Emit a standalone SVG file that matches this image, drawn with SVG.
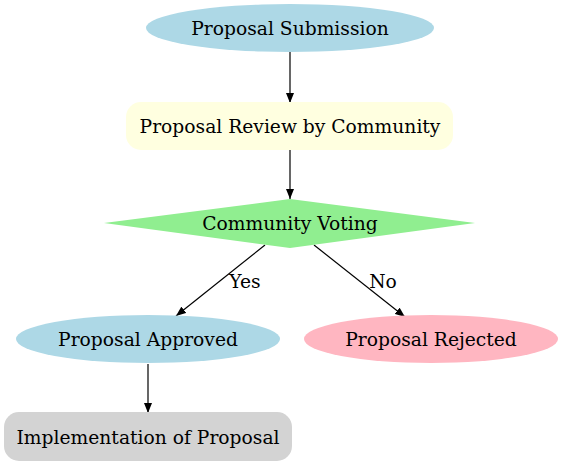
<svg xmlns="http://www.w3.org/2000/svg" width="563" height="467" viewBox="0 0 563 467">
<style>
text{font-family:"DejaVu Serif","Liberation Serif",serif;font-size:18.7px;fill:#000;text-anchor:middle;dominant-baseline:central}
.e{stroke:#000;stroke-width:1.2;fill:none}
</style>
<defs>
<marker id="a" markerWidth="10" markerHeight="8" refX="10" refY="4" orient="auto" markerUnits="userSpaceOnUse">
<path d="M0,0 L10,4 L0,8 Z" fill="#000"/>
</marker>
</defs>
<rect width="563" height="467" fill="#fff"/>
<g id="edges">
<line class="e" x1="290" y1="52" x2="290" y2="103" marker-end="url(#a)"/>
<line class="e" x1="290" y1="150" x2="290" y2="199" marker-end="url(#a)"/>
<line class="e" x1="265" y1="245" x2="176" y2="316" marker-end="url(#a)"/>
<text x="245" y="281">Yes</text>
<line class="e" x1="314" y1="245" x2="405" y2="317" marker-end="url(#a)"/>
<text x="383" y="281">No</text>
<line class="e" x1="148" y1="364" x2="148" y2="413" marker-end="url(#a)"/>
</g>
<g id="n1"><ellipse cx="290" cy="28" rx="144" ry="24" fill="#ADD8E6"/><text x="290" y="28">Proposal Submission</text></g>
<g id="n2"><rect x="126" y="102" width="327" height="48" rx="15" fill="#FFFFE0"/><text x="290" y="126">Proposal Review by Community</text></g>
<g id="n3"><polygon points="290,199 475,223 290,248 104,223" fill="#90EE90"/><text x="290" y="223">Community Voting</text></g>
<g id="n4"><ellipse cx="148" cy="339" rx="132" ry="24" fill="#ADD8E6"/><text x="148" y="339">Proposal Approved</text></g>
<g id="n5"><ellipse cx="431" cy="339" rx="127" ry="24" fill="#FFB6C1"/><text x="431" y="339">Proposal Rejected</text></g>
<g id="n6"><rect x="4" y="412" width="288" height="49" rx="15" fill="#D3D3D3"/><text x="148" y="437">Implementation of Proposal</text></g>
</svg>
